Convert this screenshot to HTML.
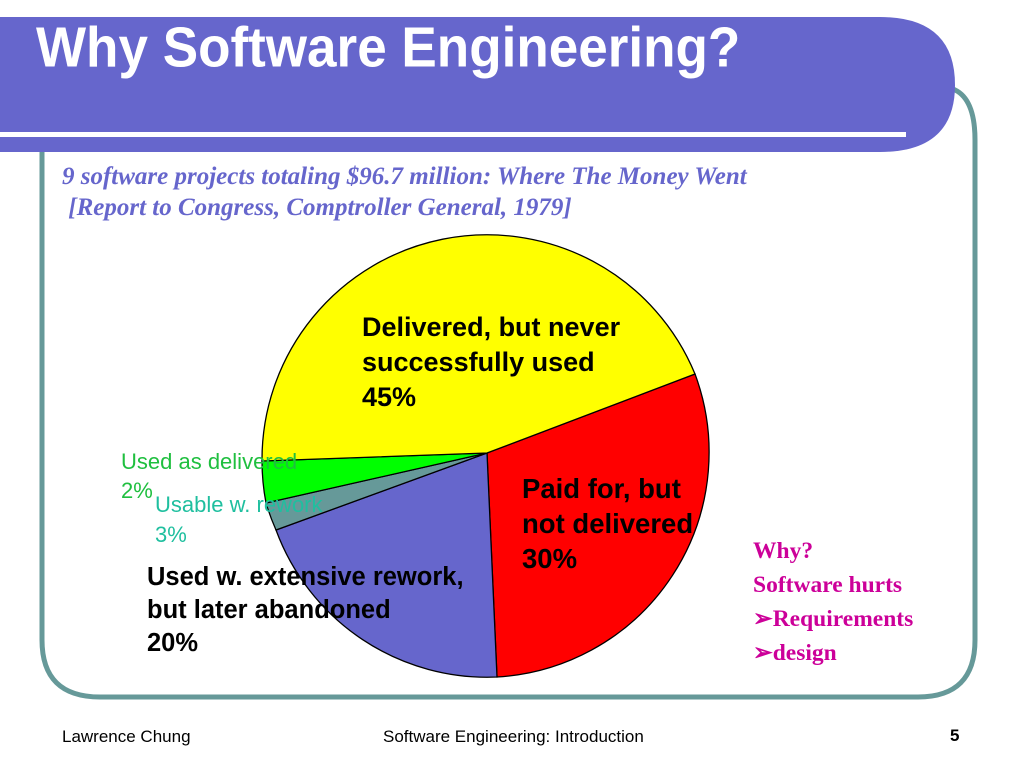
<!DOCTYPE html>
<html><head><style>
body{margin:0;width:1024px;height:768px;background:#fff;position:relative;overflow:hidden;font-family:"Liberation Sans",sans-serif}
.a{position:absolute;white-space:nowrap}
</style></head><body>
<svg class="a" style="left:0;top:0" width="1024" height="768">
<path d="M42,150 V640 Q42,697 100,697 H918 Q975,697 975,640 V140 Q975,95 950,88" fill="none" stroke="#669999" stroke-width="5"/>
<path d="M0,17 H880 Q955,17 955,85 Q955,152 880,152 H0 Z" fill="#6666cc"/>
<rect x="0" y="132" width="906" height="5" fill="#fff"/>
<g stroke="#000" stroke-width="1.3">
<path d="M487,453 L695,374 A225,225 0 0 1 497,677 Z" fill="#ff0000"/>
<path d="M487,453 L497,677 A225,225 0 0 1 276,530 Z" fill="#6666cc"/>
<path d="M487,453 L276,530 A225,225 0 0 1 266,503 Z" fill="#669999"/>
<path d="M487,453 L266,503 A225,225 0 0 1 262,461 Z" fill="#00ff00"/>
<path d="M487,453 L262,461 A225,225 0 0 1 695,374 Z" fill="#ffff00"/>
</g>
</svg>
<div class="a" style="left:36px;top:15px;font-size:51px;font-weight:bold;color:#fff;transform:scale(1.04,1.1);transform-origin:0 0">Why Software Engineering?</div>
<div class="a" style="left:62px;top:161px;font:italic bold 25px 'Liberation Serif',serif;color:#6666cc;line-height:31px">9 software projects totaling $96.7 million: Where The Money Went<br>&nbsp;[Report to Congress, Comptroller General, 1979]</div>
<div class="a" style="left:362px;top:310px;font-size:27px;font-weight:bold;line-height:35px">Delivered, but never<br>successfully used<br>45%</div>
<div class="a" style="left:522px;top:471px;font-size:27.5px;font-weight:bold;line-height:35px">Paid for, but<br>not delivered<br>30%</div>
<div class="a" style="left:147px;top:561px;font-size:25.5px;font-weight:bold;line-height:33px">Used w. extensive rework,<br>but later abandoned<br>20%</div>
<div class="a" style="left:121px;top:447px;font-size:22px;color:#1fbf3f;line-height:29px">Used as delivered<br>2%</div>
<div class="a" style="left:155px;top:490px;font-size:22px;color:#1fbf9f;line-height:30px">Usable w. rework<br>3%</div>
<div class="a" style="left:753px;top:534px;font:bold 23.5px 'Liberation Serif',serif;color:#cc0099;line-height:34px">Why?<br>Software hurts<br>&#10146;Requirements<br>&#10146;design</div>
<div class="a" style="left:62px;top:727px;font-size:17px">Lawrence Chung</div>
<div class="a" style="left:383px;top:727px;font-size:17px">Software Engineering: Introduction</div>
<div class="a" style="left:950px;top:726px;font-size:17px;font-weight:bold">5</div>
</body></html>
